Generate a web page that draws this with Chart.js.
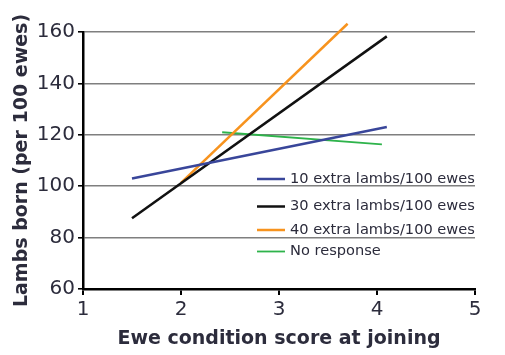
<!DOCTYPE html>
<html><head><meta charset="utf-8">
<script src="https://cdn.jsdelivr.net/npm/chart.js@4/dist/chart.umd.min.js"></script>
<style>html,body{margin:0;padding:0;background:#fff}#wrap{width:505px;height:355px}</style>
</head><body><div id="wrap"><canvas id="c" width="505" height="355"></canvas></div>
<script>
const seriesLabels = ["10 extra lambs/100 ewes","30 extra lambs/100 ewes","40 extra lambs/100 ewes","No response"];
const blueX = [1.5, 4.1], blueY = [103, 123];
const blackX = [1.5, 4.1], blackY = [87.5, 158.3];
const orangeX = [2.0, 3.7], orangeY = [101.3, 163.2];
const greenX = [2.42, 4.05], greenY = [121, 116.3];
const xTicks = [1,2,3,4,5];
const yTicks = [60,80,100,120,140,160];
const colors = ["#39469a","#111111","#f7931e","#2eb34b"];
const widths = [2.5,2.5,2.5,1.8];
const pts = (xs,ys)=>xs.map((x,i)=>({x:x,y:ys[i]}));
const allData = [pts(blueX,blueY),pts(blackX,blackY),pts(orangeX,orangeY),pts(greenX,greenY)];
const FONT = "DejaVu Sans";
const TXT = "#2c2c3c";

const legendPlugin = {
  id:'customLegend',
  afterDatasetsDraw(chart){
    const ctx = chart.ctx;
    const ys = [179, 206.5, 230, 251.5];
    ctx.save();
    ctx.font = "14.6px '"+FONT+"'";
    ctx.textBaseline = 'middle';
    chart.data.datasets.forEach((ds,i)=>{
      ctx.strokeStyle = ds.borderColor;
      ctx.lineWidth = ds.borderWidth;
      ctx.beginPath(); ctx.moveTo(257, ys[i]); ctx.lineTo(285, ys[i]); ctx.stroke();
      ctx.fillStyle = TXT;
      ctx.fillText(ds.label, 290, ys[i]);
    });
    ctx.restore();
  }
};

new Chart(document.getElementById('c'), {
  type:'line',
  data:{datasets: allData.map((d,i)=>({label:seriesLabels[i], data:d, borderColor:colors[i], backgroundColor:colors[i], borderWidth:widths[i], pointRadius:0, tension:0, clip:false}))},
  options:{
    responsive:false, animation:false, devicePixelRatio:1,
    layout:{padding:{top:32,right:30,left:0,bottom:0}},
    plugins:{legend:{display:false}, tooltip:{enabled:false}},
    scales:{
      x:{type:'linear', min:1, max:5,
        afterBuildTicks:(s)=>{s.ticks = xTicks.map(v=>({value:v}));},
        afterFit:(s)=>{s.height = 66;},
        border:{color:'#000', width:2.5},
        grid:{drawOnChartArea:false, color:'#000', tickColor:'#000', tickLength:6, lineWidth:2},
        ticks:{color:TXT, font:{family:FONT, size:20}, padding:3},
        title:{display:true, text:'Ewe condition score at joining', color:TXT, font:{family:FONT, size:19, weight:'bold'}, padding:{top:0,bottom:5}}
      },
      y:{min:60, max:160,
        afterBuildTicks:(s)=>{s.ticks = yTicks.map(v=>({value:v}));},
        afterFit:(s)=>{s.width = 83;},
        border:{color:'#000', width:2.5},
        grid:{color:(c)=> c.tick && c.tick.value===60 ? 'rgba(0,0,0,0)' : '#7f7f7f', tickColor:'#000', tickLength:5, lineWidth:1.6},
        ticks:{color:TXT, font:{family:FONT, size:20}, padding:3},
        title:{display:true, text:'Lambs born (per 100 ewes)', color:TXT, font:{family:FONT, size:19, weight:'bold'}, padding:{top:11,bottom:0}}
      }
    }
  },
  plugins:[legendPlugin]
});
</script></body></html>
